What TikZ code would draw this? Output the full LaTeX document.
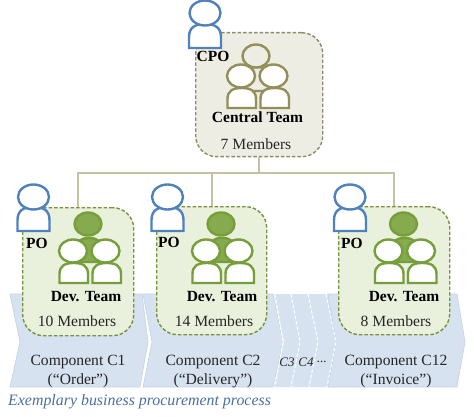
\documentclass[tikz,border=0pt]{standalone}
\usepackage{fontspec}
\setmainfont{Liberation Serif}
\definecolor{blueline}{HTML}{4F81BD}
\definecolor{chev}{HTML}{D7E2F0}
\definecolor{chevedge}{HTML}{C3D2E6}
\definecolor{devfill}{HTML}{E9F0DB}
\definecolor{devline}{HTML}{76923C}
\definecolor{devicon}{HTML}{769F3C}
\definecolor{devdark}{HTML}{86AB4E}
\definecolor{cenfill}{HTML}{EEEDE3}
\definecolor{cenline}{HTML}{8E8B68}
\definecolor{cenicon}{HTML}{938F5A}
\definecolor{conn}{HTML}{C4C2A0}
\definecolor{captionblue}{HTML}{4A6F9E}
\tikzset{
  teambox/.style={rounded corners=21pt,dashed,dash pattern=on 3.5pt off 2pt,line width=1.4pt,inner sep=0pt,anchor=north west},
  devbox/.style={teambox,draw=devline,fill=devfill},
  cenbox/.style={teambox,draw=cenline,fill=cenfill},
  link/.style={draw=conn,line width=2pt},
  chevron/.style={fill=chev,draw=chevedge,line width=.6pt},
  sep/.style={draw=white,line width=1pt,dashed,dash pattern=on 3.5pt off 2pt},
  personline/.style={draw=blueline,fill=white,line width=2.4pt},
  lbl/.style={font=\fontsize{15.6}{18}\selectfont,text=black!85,inner sep=0pt},
  blbl/.style={font=\fontsize{15.5}{18}\selectfont\bfseries,text=black,inner sep=0pt},
  ilbl/.style={font=\fontsize{13}{15}\selectfont\itshape,text=black!85,inner sep=0pt},
}
\newcommand{\bodyshape}[5]{% style x y w h
  \begin{scope}[shift={(#2,#3)},xscale=#4,yscale=#5]
    \draw[#1] (0,1) -- (0,.55) .. controls (0,.15) and (.18,0) .. (.5,0)
      .. controls (.82,0) and (1,.15) .. (1,.55) -- (1,1) -- cycle;
  \end{scope}}
\newcommand{\personicon}[3]{% xc, head centre y, body top
  \bodyshape{personline}{#1-16}{#3}{32}{24}
  \draw[personline] (#1,#2) ellipse [x radius=15.5,y radius=12.5];}
\newcommand{\teamicon}[7]{% xc, y, line, back fill, front fill, back head dy, back body dy
  \begin{scope}[shift={(#1,#2)}]
    \bodyshape{draw=#3,fill=#4,line width=2.4pt}{-14}{#7}{27}{24}
    \draw[draw=#3,fill=#4,line width=2.4pt] (-1.5,#6) ellipse [x radius=13.5,y radius=11.5];
    \draw[draw=#3,fill=#5,line width=2.4pt] (-16.5,-12) ellipse [x radius=14,y radius=11.5];
    \draw[draw=#3,fill=#5,line width=2.4pt] (16,-12) ellipse [x radius=14,y radius=11.5];
    \bodyshape{draw=#3,fill=#5,line width=2.4pt}{-30}{0}{28.5}{20}
    \bodyshape{draw=#3,fill=#5,line width=2.4pt}{3}{0}{28.5}{20}
  \end{scope}}
\begin{document}
\begin{tikzpicture}[x=1pt,y=-1pt]
\useasboundingbox (0,0) rectangle (474,417);
% process chevrons
\path[chevron] (10,294) -- (142,294) -- (148,342) -- (140,387) -- (10,387) -- (20,342) -- cycle;
\path[chevron] (143,294) -- (273,294) -- (283,342) -- (273,387) -- (143,387) -- (152,342) -- cycle;
\path[fill=chev] (274,294) -- (330,294) -- (338,342) -- (328,387) -- (274,387) -- (284,342) -- cycle;
\path[chevron] (328,294) -- (457,294) -- (465,342) -- (457,387) -- (328,387) -- (336,342) -- cycle;
\path[sep] (275,294) -- (283,342) -- (275,387);
\path[sep] (291,294) -- (300,342) -- (291,387);
\path[sep] (308,294) -- (318,342) -- (309,387);
\path[sep] (326,294) -- (336,342) -- (327,387);
% team boxes
\node[cenbox,minimum width=127pt,minimum height=124pt] (central) at (195,32) {};
\node[devbox,minimum width=111pt,minimum height=128pt] (dev1) at (22,207) {};
\node[devbox,minimum width=110pt,minimum height=128pt] (dev2) at (156,206) {};
\node[devbox,minimum width=111pt,minimum height=128pt] (dev3) at (338,206) {};
% connectors
\coordinate (bus) at (central.south |- 0,173);
\draw[link] (central.south) -- (bus);
\draw[link] (dev1.north) |- (bus);
\draw[link] (dev2.north) |- (bus);
\draw[link] (dev3.north) |- (bus);
% people
\personicon{205}{13}{24}
\personicon{33.5}{197}{207}
\personicon{167.5}{197}{207}
\personicon{350}{197}{207}
% team icons
\teamicon{257.5}{88}{cenicon}{cenfill}{white}{-32}{-21}
\teamicon{89.5}{263}{devicon}{devdark}{white}{-39}{-25}
\teamicon{222.5}{263}{devicon}{devdark}{white}{-39}{-25}
\teamicon{405}{263}{devicon}{devdark}{white}{-39}{-25}
% labels
\node[blbl] (cpo) at (213,56) {CPO};
\node[blbl] (cname) at (257.5,117) {Central Team};
\node[lbl] (cnum) at (256,144) {7 Members};
\node[blbl] (po1) at (37,243) {PO};
\node[blbl] (po2) at (169,242) {PO};
\node[blbl] (po3) at (352,243) {PO};
\node[blbl] (d1) at (86,297) {Dev. Team};
\node[blbl] (d2) at (222,297) {Dev. Team};
\node[blbl] (d3) at (404,297) {Dev. Team};
\node[lbl] (m1) at (77,321) {10 Members};
\node[lbl] (m2) at (214,321) {14 Members};
\node[lbl] (m3) at (396,321) {8 Members};
\node[lbl] (c1) at (78,362) {Component C1};
\node[lbl] (c1b) at (78,381) {(“Order”)};
\node[lbl] (c2) at (213,362) {Component C2};
\node[lbl] (c2b) at (213,381) {(“Delivery”)};
\node[lbl] (c12) at (396,362) {Component C12};
\node[lbl] (c12b) at (396,381) {(“Invoice”)};
\node[ilbl] (c3) at (287,362) {C3};
\node[ilbl] (c4) at (306,362) {C4};
\node[ilbl] (dots) at (322,362) {...};
\node[font=\fontsize{15.9}{18}\selectfont\itshape,text=captionblue,inner sep=0pt,anchor=west] (cap) at (8,402) {Exemplary business procurement process};
\end{tikzpicture}
\end{document}
